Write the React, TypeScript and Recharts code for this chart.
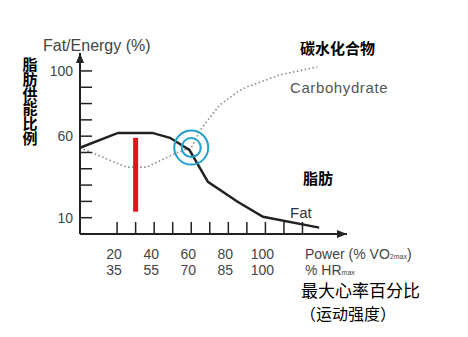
import React from "react";
import {
  LineChart,
  Line,
  XAxis,
  YAxis,
  ReferenceLine,
  ReferenceDot,
} from "recharts";

// power (% VO2max) positions and energy share (%)
const fatX = [0, 20.5, 39, 48.5, 59, 69, 85, 98.7, 129];
const fatY = [52.9, 62, 62, 59, 51.6, 32, 19.8, 10.6, 3.9];
const carbX = [0, 25, 36, 52, 60, 65, 72, 75.5, 85, 90, 108, 128];
const carbY = [52.9, 41, 41, 49.8, 52.9, 63.9, 74.3, 79.2, 87.2, 90.2, 97.6, 102.5];

const yTicks = [10, 20, 30, 40, 50, 60, 70, 80, 90, 100];
const yLabels = [10, 60, 100];
const xTicks = [20, 30, 40, 50, 60, 70, 80, 90, 100, 110, 120];
const powerLabels = [20, 40, 60, 80, 100];
const hrLabels = [35, 55, 70, 85, 100];

// fat-max zone marker and crossover point
const zoneX = 30;
const zoneRange = [13.7, 59];
const crossover = { x: 60, y: 53 };

const fatData = fatX.map((x, i) => ({ x, y: fatY[i] }));
const carbData = carbX.map((x, i) => ({ x, y: carbY[i] }));

const FONT = "'Liberation Sans', Arial, sans-serif";
const CJK = "'Noto Sans CJK SC', sans-serif";

function YTick(props: any) {
  const { x, y, payload } = props;
  const show = yLabels.includes(payload.value);
  return (
    <g>
      <line x1={x} x2={x + 12} y1={y} y2={y} stroke="#222" strokeWidth={1.5} />
      {show && (
        <text x={x - 7} y={y + 5} textAnchor="end" fontSize={14} fill="#444" fontFamily={FONT}>
          {payload.value}
        </text>
      )}
    </g>
  );
}

function XTick(props: any) {
  const { x, y, payload } = props;
  const idx = powerLabels.indexOf(payload.value);
  return (
    <g>
      <line x1={x} x2={x} y1={y - 1} y2={y - 12} stroke="#222" strokeWidth={1.5} />
      {idx >= 0 && (
        <>
          <text x={x - 3} y={y + 25} textAnchor="middle" fontSize={14} fill="#444" fontFamily={FONT}>
            {powerLabels[idx]}
          </text>
          <text x={x - 3} y={y + 41} textAnchor="middle" fontSize={14} fill="#444" fontFamily={FONT}>
            {hrLabels[idx]}
          </text>
        </>
      )}
    </g>
  );
}

const abs = (left: number, top: number, extra: React.CSSProperties = {}): React.CSSProperties => ({
  position: "absolute",
  left,
  top,
  lineHeight: 1,
  whiteSpace: "nowrap",
  ...extra,
});

export default function App() {
  return (
    <div
      style={{
        position: "absolute",
        left: 0,
        top: 0,
        width: 468,
        height: 337,
        background: "#fff",
        overflow: "hidden",
      }}
    >
      <LineChart
        width={468}
        height={337}
        margin={{ top: 53, right: 121, bottom: 73, left: 20 }}
      >
        <defs>
          <marker
            id="arr"
            viewBox="0 0 10 8"
            refX="10"
            refY="4"
            markerWidth="10"
            markerHeight="8"
            markerUnits="userSpaceOnUse"
            orient="auto-start-reverse"
          >
            <path d="M0,0 L10,4 L0,8 z" fill="#222" />
          </marker>
        </defs>
        <XAxis
          dataKey="x"
          type="number"
          domain={[0, 144]}
          ticks={xTicks}
          interval={0}
          tickSize={0}
          tickMargin={0}
          tickLine={false}
          tick={<XTick />}
          height={30}
          axisLine={{ stroke: "#222", strokeWidth: 2, markerEnd: "url(#arr)" }}
        />
        <YAxis
          type="number"
          domain={[0, 111]}
          ticks={yTicks}
          interval={0}
          tickSize={0}
          tickMargin={0}
          tickLine={false}
          tick={<YTick />}
          width={60}
          axisLine={{ stroke: "#222", strokeWidth: 2, markerStart: "url(#arr)" }}
        />
        <Line
          data={carbData}
          dataKey="y"
          type="linear"
          stroke="#888"
          strokeWidth={1.6}
          strokeDasharray="1.5 2.5"
          dot={false}
          isAnimationActive={false}
        />
        <Line
          data={fatData}
          dataKey="y"
          type="linear"
          stroke="#222"
          strokeWidth={2.5}
          dot={false}
          isAnimationActive={false}
        />
        <ReferenceLine
          segment={[
            { x: zoneX, y: zoneRange[0] },
            { x: zoneX, y: zoneRange[1] },
          ]}
          stroke="#e0161c"
          strokeWidth={5}
        />
        <ReferenceDot x={crossover.x} y={crossover.y} r={17} fill="none" stroke="#24a0cc" strokeWidth={2} />
        <ReferenceDot x={crossover.x} y={crossover.y} r={9.5} fill="none" stroke="#24a0cc" strokeWidth={2} />
      </LineChart>

      <div style={abs(43, 38, { fontFamily: FONT, fontSize: 16, color: "#444" })}>Fat/Energy (%)</div>
      <div
        style={abs(22.5, 57, {
          fontFamily: CJK,
          fontSize: 15,
          fontWeight: 700,
          color: "#000",
          writingMode: "vertical-rl",
          letterSpacing: -0.3,
        })}
      >
        脂肪供能比例
      </div>
      <div style={abs(300, 39.5, { fontFamily: CJK, fontSize: 15, fontWeight: 700, color: "#000" })}>碳水化合物</div>
      <div style={abs(290, 79.5, { fontFamily: FONT, fontSize: 15, color: "#555", letterSpacing: 0.6 })}>Carbohydrate</div>
      <div style={abs(303, 169.5, { fontFamily: CJK, fontSize: 15, fontWeight: 700, color: "#000" })}>脂肪</div>
      <div style={abs(290, 204.5, { fontFamily: FONT, fontSize: 15, color: "#333" })}>Fat</div>
      <div style={abs(305, 247, { fontFamily: FONT, fontSize: 14, color: "#444" })}>
        Power (% VO<span style={{ fontSize: 7 }}>2max</span>)
      </div>
      <div style={abs(305, 263, { fontFamily: FONT, fontSize: 14, color: "#444" })}>
        % HR<span style={{ fontSize: 7 }}>max</span>
      </div>
      <div style={abs(301, 281, { fontFamily: CJK, fontSize: 17, color: "#000" })}>最大心率百分比</div>
      <div style={abs(300, 305, { fontFamily: CJK, fontSize: 16, color: "#000" })}>（运动强度）</div>
    </div>
  );
}
